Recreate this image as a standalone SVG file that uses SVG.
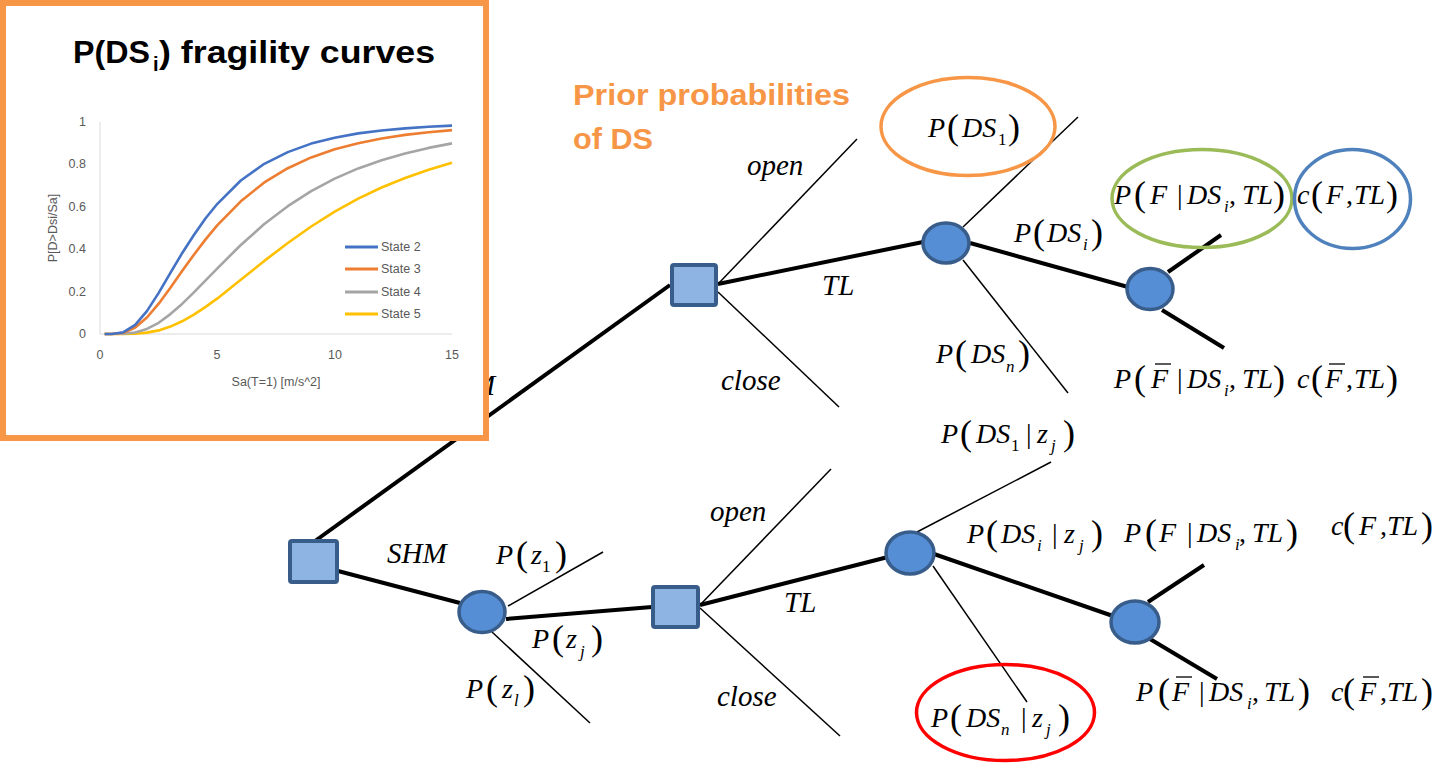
<svg xmlns="http://www.w3.org/2000/svg" width="1441" height="777" viewBox="0 0 1441 777">
<style>
.m{font-family:"Liberation Serif","Times New Roman",serif;font-style:italic;font-size:28px;fill:#000}
.w{font-family:"Liberation Serif","Times New Roman",serif;font-style:italic;font-size:29px;fill:#000}
.p{font-style:normal;font-size:36px}
.u{font-style:normal}
.s{font-size:17px}
.su{font-style:normal;font-size:17px}
.thick{stroke:#000;stroke-width:4;fill:none}
.thin{stroke:#000;stroke-width:1.5;fill:none}
.dec{fill:#8EB4E3;stroke:#385D8A;stroke-width:4}
.chn{fill:#558ED5;stroke:#385D8A;stroke-width:3.5}
.ov{stroke:#000;stroke-width:1.3}
.ax{font-family:"Liberation Sans",Arial,sans-serif;font-size:12.5px;fill:#595959}
.crv{fill:none;stroke-width:2.6;stroke-linejoin:round}
.ann{fill:none;stroke-width:3.5}
</style>
<rect width="1441" height="777" fill="#fff"/>

<g id="connectors">
  <line class="thick" x1="315" y1="541" x2="670" y2="285"/>
  <line class="thick" x1="338" y1="571" x2="460" y2="603"/>
  <line class="thick" x1="506" y1="619" x2="652" y2="607"/>
  <line class="thick" x1="700" y1="605" x2="888" y2="557"/>
  <line class="thick" x1="934" y1="554" x2="1113" y2="616"/>
  <line class="thick" x1="1148" y1="602" x2="1204" y2="565"/>
  <line class="thick" x1="1150" y1="639" x2="1217" y2="679"/>
  <line class="thick" x1="718" y1="284" x2="923" y2="242"/>
  <line class="thick" x1="970" y1="243" x2="1128" y2="287"/>
  <line class="thick" x1="1168" y1="272" x2="1221" y2="235"/>
  <line class="thick" x1="1162" y1="310" x2="1224" y2="348"/>
  <line class="thin" x1="718" y1="284" x2="857" y2="139"/>
  <line class="thin" x1="718" y1="292" x2="839" y2="407"/>
  <line class="thin" x1="963" y1="227" x2="1078" y2="117"/>
  <line class="thin" x1="963" y1="260" x2="1068" y2="393"/>
  <line class="thin" x1="700" y1="605" x2="831" y2="469"/>
  <line class="thin" x1="700" y1="608" x2="840" y2="736"/>
  <line class="thin" x1="917" y1="532" x2="1051" y2="462"/>
  <line class="thin" x1="933" y1="566" x2="1027" y2="702"/>
  <line class="thin" x1="508" y1="606" x2="603" y2="552"/>
  <line class="thin" x1="492" y1="632" x2="590" y2="723"/>
</g>

<g id="label-partial-M"><text class="w" x="471" y="395">M</text></g>

<g id="inset-fragility">
  <rect x="3" y="3" width="483" height="435" fill="#fff" stroke="#F79646" stroke-width="6"/>
  <text font-family="'Liberation Sans',Arial,sans-serif" font-weight="bold" font-size="32" fill="#000"><tspan x="73" y="63" textLength="77" lengthAdjust="spacingAndGlyphs">P(DS</tspan><tspan x="153" y="71" font-size="20">i</tspan><tspan x="159" y="63" textLength="276" lengthAdjust="spacingAndGlyphs">) fragility curves</tspan></text>
  <line x1="100" y1="122" x2="100" y2="334" stroke="#D9D9D9" stroke-width="1"/>
  <line x1="100" y1="334" x2="452" y2="334" stroke="#D9D9D9" stroke-width="1"/>
  <g class="ax" text-anchor="end">
    <text x="86" y="126">1</text>
    <text x="86" y="168">0.8</text>
    <text x="86" y="211">0.6</text>
    <text x="86" y="253">0.4</text>
    <text x="86" y="296">0.2</text>
    <text x="86" y="338">0</text>
  </g>
  <g class="ax" text-anchor="middle">
    <text x="100" y="359">0</text>
    <text x="217" y="359">5</text>
    <text x="335" y="359">10</text>
    <text x="452" y="359">15</text>
    <text x="276" y="386">Sa(T=1) [m/s^2]</text>
    <text transform="translate(57,228) rotate(-90)">P[D&gt;Dsi/Sa]</text>
  </g>
  <polyline class="crv" stroke="#FFC000" points="104.7,334 123.5,334 135.2,333.7 146.9,332.6 158.7,330.4 170.4,326.6 182.1,321.3 193.9,314.7 205.6,306.9 217.4,298.4 240.8,279.7 264.3,260.9 287.8,243 311.2,226.5 334.7,211.7 358.2,198.7 381.6,187.5 405.1,178 428.6,169.7 452,162.7"/>
  <polyline class="crv" stroke="#A5A5A5" points="104.7,334 123.5,333.8 135.2,332.5 146.9,328.9 158.7,322.8 170.4,314.1 182.1,303.9 193.9,292.4 205.6,280.4 217.4,268.3 240.8,245 264.3,224 287.8,206.2 311.2,191.1 334.7,178.6 358.2,168.4 381.6,160.2 405.1,153.4 428.6,147.9 452,143.4"/>
  <polyline class="crv" stroke="#ED7D31" points="104.7,334 111.7,334 123.5,332.7 135.2,327.6 146.9,317.5 158.7,303.7 170.4,287.8 182.1,271 193.9,254.7 205.6,239.4 217.4,225.2 240.8,201.3 264.3,182.4 287.8,168.2 311.2,157.4 334.7,149.3 358.2,143.2 381.6,138.5 405.1,134.9 428.6,132.2 452,130.1"/>
  <polyline class="crv" stroke="#4472C4" points="104.7,334 111.7,334 123.5,332.2 135.2,324.9 146.9,311.1 158.7,292.9 170.4,272.9 182.1,253.2 193.9,235 205.6,218.2 217.4,203.8 240.8,180.5 264.3,163.8 287.8,152.1 311.2,143.6 334.7,137.7 358.2,133.4 381.6,130.5 405.1,128.4 428.6,126.7 452,125.6"/>
  <line x1="345" y1="247" x2="378" y2="247" stroke="#4472C4" stroke-width="3"/>
  <line x1="345" y1="269" x2="378" y2="269" stroke="#ED7D31" stroke-width="3"/>
  <line x1="345" y1="292" x2="378" y2="292" stroke="#A5A5A5" stroke-width="3"/>
  <line x1="345" y1="314" x2="378" y2="314" stroke="#FFC000" stroke-width="3"/>
  <g class="ax">
    <text x="381" y="251">State 2</text>
    <text x="381" y="273">State 3</text>
    <text x="381" y="296">State 4</text>
    <text x="381" y="318">State 5</text>
  </g>
</g>

<g id="label-prior" font-family="'Liberation Sans',Arial,sans-serif" font-weight="bold" font-size="30" fill="#F79646">
  <text x="573" y="105" textLength="277" lengthAdjust="spacingAndGlyphs">Prior probabilities</text>
  <text x="573" y="149" textLength="80" lengthAdjust="spacingAndGlyphs">of DS</text>
</g>

<g id="node-root"><rect class="dec" x="290" y="541" width="47" height="41" rx="2"/></g>
<g id="node-shm-chance"><ellipse class="chn" cx="482" cy="612" rx="23" ry="20.5"/></g>
<g id="node-dec-upper"><rect class="dec" x="672" y="265" width="44" height="40" rx="2"/></g>
<g id="node-dec-lower"><rect class="dec" x="653" y="587" width="45" height="40" rx="2"/></g>
<g id="node-ds-upper"><ellipse class="chn" cx="946" cy="243" rx="23" ry="20"/></g>
<g id="node-f-upper"><ellipse class="chn" cx="1150" cy="289" rx="23" ry="20.5"/></g>
<g id="node-ds-lower"><ellipse class="chn" cx="910" cy="553" rx="24" ry="21"/></g>
<g id="node-f-lower"><ellipse class="chn" cx="1135" cy="622" rx="24" ry="21"/></g>

<g id="labels-words">
  <text class="w" x="747" y="175">open</text>
  <text class="w" x="721" y="390">close</text>
  <text class="w" x="822" y="295">TL</text>
  <text class="w" x="710" y="521">open</text>
  <text class="w" x="784" y="612">TL</text>
  <text class="w" x="717" y="706">close</text>
  <text class="w" x="387" y="563">SHM</text>
</g>

<g id="label-PDS1"><text class="m"><tspan x="928" y="137">P</tspan><tspan class="p" x="947" y="139">(</tspan><tspan x="962" y="137">DS</tspan><tspan class="su" x="998" y="145">1</tspan><tspan class="p" x="1008" y="139">)</tspan></text></g>
<g id="label-PF-upper"><text class="m"><tspan x="1114" y="204">P</tspan><tspan class="p" x="1134" y="206">(</tspan><tspan x="1150" y="204">F</tspan><tspan class="u" x="1177" y="204">|</tspan><tspan x="1187" y="204">DS</tspan><tspan class="s" x="1224" y="212">i</tspan><tspan class="u" x="1229" y="204">,</tspan><tspan x="1242" y="204">TL</tspan><tspan class="p" x="1273" y="206">)</tspan></text></g>
<g id="label-cF-upper"><text class="m"><tspan x="1297" y="204">c</tspan><tspan class="p" x="1311" y="206">(</tspan><tspan x="1326" y="204">F</tspan><tspan class="u" x="1346" y="204">,</tspan><tspan x="1354" y="204">TL</tspan><tspan class="p" x="1386" y="206">)</tspan></text></g>
<g id="label-PDSi"><text class="m"><tspan x="1014" y="242">P</tspan><tspan class="p" x="1033" y="244">(</tspan><tspan x="1047" y="242">DS</tspan><tspan class="s" x="1083" y="250">i</tspan><tspan class="p" x="1091" y="244">)</tspan></text></g>
<g id="label-PDSn"><text class="m"><tspan x="936" y="363">P</tspan><tspan class="p" x="955" y="365">(</tspan><tspan x="971" y="363">DS</tspan><tspan class="s" x="1006" y="372">n</tspan><tspan class="p" x="1018" y="365">)</tspan></text></g>
<g id="label-PFbar-upper"><text class="m"><tspan x="1114" y="388">P</tspan><tspan class="p" x="1134" y="390">(</tspan><tspan x="1151" y="388">F</tspan><tspan class="u" x="1177" y="388">|</tspan><tspan x="1187" y="388">DS</tspan><tspan class="s" x="1224" y="396">i</tspan><tspan class="u" x="1229" y="388">,</tspan><tspan x="1242" y="388">TL</tspan><tspan class="p" x="1273" y="390">)</tspan></text><line class="ov" x1="1155" y1="364" x2="1171" y2="364"/></g>
<g id="label-cFbar-upper"><text class="m"><tspan x="1297" y="388">c</tspan><tspan class="p" x="1311" y="390">(</tspan><tspan x="1325" y="388">F</tspan><tspan class="u" x="1346" y="388">,</tspan><tspan x="1354" y="388">TL</tspan><tspan class="p" x="1386" y="390">)</tspan></text><line class="ov" x1="1329" y1="364" x2="1345" y2="364"/></g>

<g id="label-PDS1zj"><text class="m"><tspan x="941" y="443">P</tspan><tspan class="p" x="960" y="445">(</tspan><tspan x="976" y="443">DS</tspan><tspan class="su" x="1011" y="451">1</tspan><tspan class="u" x="1026" y="443">|</tspan><tspan x="1037" y="443">z</tspan><tspan class="s" x="1051" y="451">j</tspan><tspan class="p" x="1063" y="445">)</tspan></text></g>
<g id="label-PDSizj"><text class="m"><tspan x="967" y="543">P</tspan><tspan class="p" x="986" y="545">(</tspan><tspan x="1001" y="543">DS</tspan><tspan class="s" x="1037" y="551">i</tspan><tspan class="u" x="1052" y="543">|</tspan><tspan x="1064" y="543">z</tspan><tspan class="s" x="1079" y="551">j</tspan><tspan class="p" x="1091" y="545">)</tspan></text></g>
<g id="label-PDSnzj"><text class="m"><tspan x="931" y="727">P</tspan><tspan class="p" x="950" y="729">(</tspan><tspan x="966" y="727">DS</tspan><tspan class="s" x="1001" y="735">n</tspan><tspan class="u" x="1021" y="727">|</tspan><tspan x="1032" y="727">z</tspan><tspan class="s" x="1046" y="735">j</tspan><tspan class="p" x="1058" y="729">)</tspan></text></g>

<g id="label-PF-lower"><text class="m"><tspan x="1124" y="542">P</tspan><tspan class="p" x="1145" y="544">(</tspan><tspan x="1159" y="542">F</tspan><tspan class="u" x="1187" y="542">|</tspan><tspan x="1197" y="542">DS</tspan><tspan class="s" x="1235" y="550">i</tspan><tspan class="u" x="1239" y="542">,</tspan><tspan x="1252" y="542">TL</tspan><tspan class="p" x="1286" y="544">)</tspan></text></g>
<g id="label-cF-lower"><text class="m"><tspan x="1331" y="535">c</tspan><tspan class="p" x="1343" y="537">(</tspan><tspan x="1359" y="535">F</tspan><tspan class="u" x="1380" y="535">,</tspan><tspan x="1387" y="535">TL</tspan><tspan class="p" x="1421" y="537">)</tspan></text></g>
<g id="label-PFbar-lower"><text class="m"><tspan x="1136" y="701">P</tspan><tspan class="p" x="1158" y="703">(</tspan><tspan x="1172" y="701">F</tspan><tspan class="u" x="1199" y="701">|</tspan><tspan x="1209" y="701">DS</tspan><tspan class="s" x="1247" y="709">i</tspan><tspan class="u" x="1252" y="701">,</tspan><tspan x="1264" y="701">TL</tspan><tspan class="p" x="1298" y="703">)</tspan></text><line class="ov" x1="1176" y1="677" x2="1192" y2="677"/></g>
<g id="label-cFbar-lower"><text class="m"><tspan x="1331" y="701">c</tspan><tspan class="p" x="1343" y="703">(</tspan><tspan x="1359" y="701">F</tspan><tspan class="u" x="1380" y="701">,</tspan><tspan x="1387" y="701">TL</tspan><tspan class="p" x="1421" y="703">)</tspan></text><line class="ov" x1="1363" y1="677" x2="1379" y2="677"/></g>

<g id="label-Pz1"><text class="m"><tspan x="496" y="564">P</tspan><tspan class="p" x="516" y="566">(</tspan><tspan x="531" y="564">z</tspan><tspan class="su" x="542" y="572">1</tspan><tspan class="p" x="555" y="566">)</tspan></text></g>
<g id="label-Pzj"><text class="m"><tspan x="532" y="648">P</tspan><tspan class="p" x="552" y="650">(</tspan><tspan x="566" y="648">z</tspan><tspan class="s" x="580" y="657">j</tspan><tspan class="p" x="591" y="650">)</tspan></text></g>
<g id="label-Pzl"><text class="m"><tspan x="466" y="698">P</tspan><tspan class="p" x="486" y="700">(</tspan><tspan x="502" y="698">z</tspan><tspan class="s" x="514" y="706">l</tspan><tspan class="p" x="523" y="700">)</tspan></text></g>

<g id="highlights">
  <ellipse class="ann" cx="968" cy="126.5" rx="87" ry="49" stroke="#F79646"/>
  <ellipse class="ann" cx="1202" cy="198.5" rx="90" ry="49" stroke="#9BBB59"/>
  <ellipse class="ann" cx="1352.5" cy="199" rx="58" ry="49.5" stroke="#4F81BD"/>
  <ellipse class="ann" cx="1005.5" cy="712.5" rx="89" ry="48" stroke="#FF0000" stroke-width="4"/>
</g>
</svg>
